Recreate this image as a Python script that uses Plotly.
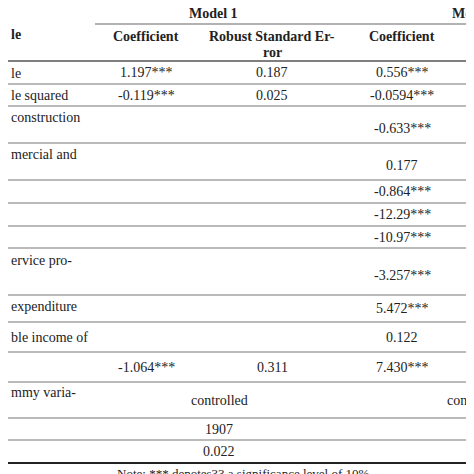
import plotly.graph_objects as go

# variable names (left side of the table is cropped in the source)
row_names = ["le", "le squared", "construction", "mercial and", "", "", "",
             "ervice pro-", "expenditure", "ble income of", "", "mmy varia-", "", ""]
m1_coef = ["1.197***", "-0.119***", "", "", "", "", "", "", "", "", "-1.064***", "", "", ""]
m1_se = ["0.187", "0.025", "", "", "", "", "", "", "", "", "0.311", "", "", ""]
m2_coef = ["0.556***", "-0.0594***", "-0.633***", "0.177", "-0.864***", "-12.29***",
           "-10.97***", "-3.257***", "5.472***", "0.122", "7.430***", "", "", ""]
span1 = ["", "", "", "", "", "", "", "", "", "", "", "controlled", "1907", "0.022"]
span2 = ["", "", "", "", "", "", "", "", "", "", "", "controlled", "1907", "0.264"]

# row layout (pixel units, y grows downward)
row_top = [53, 76, 98, 135, 172, 195, 218, 240, 287, 314, 344, 374, 410, 432]
row_bot = row_top[1:] + [455]
name_y = [65, 87, 109, 146, 184, 206, 229, 252, 298, 329, 364, 384, 422, 446]
span2_x = [0] * 11 + [437, 463, 463]

FONT = "Liberation Serif"
ann = []
def txt(x, y, s, anchor="center", bold=False, size=14):
    if not s:
        return
    ann.append(dict(x=x, y=y, xref="x", yref="y", text=f"<b>{s}</b>" if bold else s,
                    showarrow=False, xanchor=anchor, yanchor="middle",
                    font=dict(family=FONT, size=size, color="#222")))

for i in range(len(row_names)):
    top, bot = row_top[i], row_bot[i]
    mid = (top + bot) / 2
    tall = bot - top > 30
    vy = mid + 4 if tall else mid
    txt(1, name_y[i], row_names[i], anchor="left")
    txt(138, vy, m1_coef[i])
    txt(264, vy, m1_se[i])
    txt(394, vy, m2_coef[i])
    txt(211, mid, span1[i])
    txt(span2_x[i], mid, span2[i], anchor="left")

# headers
txt(205, 5, "Model 1", bold=True)
txt(442, 5, "Model 2", anchor="left", bold=True)
txt(1, 26, "le", anchor="left", bold=True)
txt(138, 28, "Coefficient", bold=True)
txt(264, 28, "Robust Standard Er-", bold=True)
txt(264, 44, "ror", bold=True)
txt(394, 28, "Coefficient", bold=True)
txt(463, 28, "Robust", anchor="left", bold=True)
txt(237, 465, "Note: *** denotes33 a significance level of 10%.", size=13)

shapes = [dict(type="line", x0=87, x1=474, y0=16, y1=16, xref="x", yref="y",
               line=dict(color="#666", width=1.2)),
          dict(type="line", x0=0, x1=474, y0=53, y1=53, xref="x", yref="y",
               line=dict(color="#555", width=1.3))]
for y in row_bot[:-1]:
    shapes.append(dict(type="line", x0=0, x1=474, y0=y, y1=y, xref="x", yref="y",
                       line=dict(color="#777", width=1.1)))
shapes.append(dict(type="line", x0=0, x1=474, y0=455, y1=455, xref="x", yref="y",
                   line=dict(color="#222", width=2)))

fig = go.Figure()
fig.update_layout(width=474, height=474, margin=dict(l=0, r=0, t=0, b=0),
                  paper_bgcolor="white", plot_bgcolor="white",
                  xaxis=dict(range=[0, 474], visible=False, fixedrange=True),
                  yaxis=dict(range=[474, 0], visible=False, fixedrange=True),
                  annotations=ann, shapes=shapes, showlegend=False)
fig.write_html("out.html")
